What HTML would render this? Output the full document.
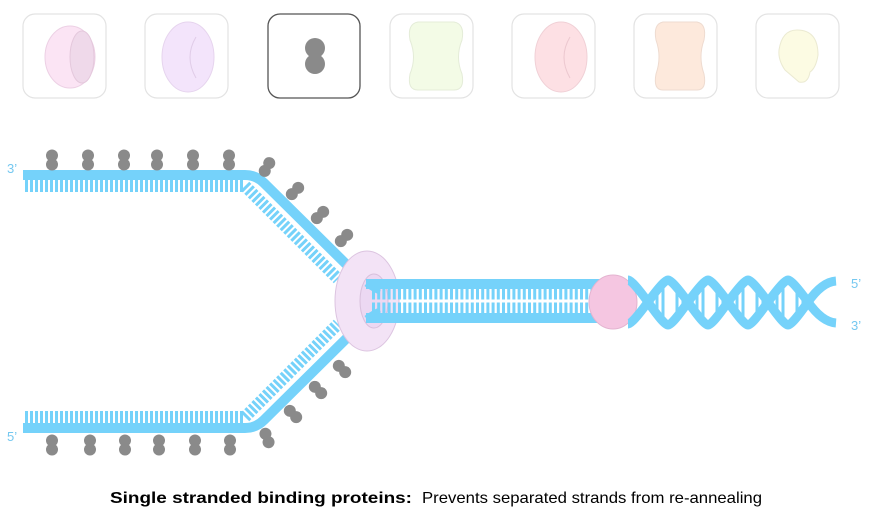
<!DOCTYPE html>
<html><head><meta charset="utf-8"><style>
body{margin:0;background:#fff;width:871px;height:521px;overflow:hidden;font-family:"Liberation Sans",sans-serif}
</style></head><body>
<svg width="871" height="521" viewBox="0 0 871 521" xmlns="http://www.w3.org/2000/svg">
<defs>
<g id="ssb"><circle cx="0" cy="-4.5" r="6" fill="#8a8a8a"/><circle cx="0" cy="4.5" r="6" fill="#8a8a8a"/></g>
</defs>
<!-- top boxes -->
<g fill="#fff" stroke="#e3e3e3" stroke-width="1.2">
<rect x="23" y="14" width="83" height="84" rx="12"/>
<rect x="145" y="14" width="83" height="84" rx="12"/>
<rect x="390" y="14" width="83" height="84" rx="12"/>
<rect x="512" y="14" width="83" height="84" rx="12"/>
<rect x="634" y="14" width="83" height="84" rx="12"/>
<rect x="756" y="14" width="83" height="84" rx="12"/>
</g>
<rect x="268" y="14" width="92" height="84" rx="12" fill="#fff" stroke="#555" stroke-width="1.3"/>
<ellipse cx="70" cy="57" rx="25" ry="31" fill="#fbe4f4" stroke="#ecd0e4"/>
<ellipse cx="82" cy="57" rx="12" ry="26" fill="#efd9ea" stroke="#e4c8dc"/>
<ellipse cx="188" cy="57" rx="26" ry="35" fill="#f3e4fb" stroke="#e6d4ee"/>
<path d="M196 37 Q184 57 196 78" fill="none" stroke="#e0cce8"/>
<circle cx="315" cy="48" r="10" fill="#8a8a8a"/><circle cx="315" cy="64" r="10" fill="#8a8a8a"/>
<path d="M418 22 H454 Q465 24 462 40 Q455 57 462 74 Q465 90 454 90 H418 Q407 90 410 74 Q417 57 410 40 Q407 24 418 22Z" fill="#f3fbe6" stroke="#e4ecd8"/>
<ellipse cx="561" cy="57" rx="26" ry="35" fill="#fde0e4" stroke="#f0d0d6"/>
<path d="M570 37 Q558 57 570 78" fill="none" stroke="#ecc8cf"/>
<path d="M663 22 H697 Q707 24 704 40 Q698 57 704 74 Q707 90 697 90 H663 Q653 90 656 74 Q662 57 656 40 Q653 24 663 22Z" fill="#fde9dc" stroke="#eedbd0"/>
<path d="M797 30 Q818 30 818 55 Q816 68 810 72 Q808 84 799 82 Q792 76 785 70 Q778 60 779 50 Q782 30 797 30Z" fill="#fcfbe3" stroke="#ebead2"/>

<!-- strands -->
<g fill="none" stroke="#75d2fa">
<path d="M23 175 H245 Q256 175 264 183 L352 270" stroke-width="10"/>
<path d="M25 186 H245 L338 279" stroke-width="12" stroke-dasharray="3 2"/>
<path d="M23 428 H245 Q256 428 264 420 L352 333" stroke-width="10"/>
<path d="M25 417 H245 L338 324" stroke-width="12" stroke-dasharray="3 2"/>
</g>
<!-- helicase -->
<ellipse cx="367" cy="301" rx="32" ry="50" fill="#f3e3f6" stroke="#dcc4e0"/>
<ellipse cx="374" cy="301" rx="14" ry="27" fill="#ecd8f2" stroke="#d8c0dc"/>
<!-- duplex -->
<g fill="none" stroke="#75d2fa">
<path d="M366 284 H612" stroke-width="10"/>
<path d="M366 318 H612" stroke-width="10"/>
<path d="M372 294 H605" stroke-width="11" stroke-dasharray="3 2.2"/>
<path d="M372 308 H605" stroke-width="11" stroke-dasharray="3 2.2"/>
<path d="M366 284 Q374 290 380 292 M366 318 Q374 312 380 310" stroke-width="5"/>
</g>
<ellipse cx="613" cy="302" rx="24" ry="27" fill="#f5c6e1" stroke="#e3b4d0"/>
<!-- helix -->
<g fill="none" stroke="#75d2fa" stroke-width="9">
<path d="M628 280 Q632 280 648 302 Q664 325 668 325 Q672 325 688 302 Q704 280 708 280 Q712 280 728 302 Q744 325 748 325 Q752 325 768 302 Q784 280 788 280 Q792 280 808 302 Q822 322 836 323"/>
<path d="M628 324 Q632 324 648 302 Q664 280 668 280 Q672 280 688 302 Q704 325 708 325 Q712 325 728 302 Q744 280 748 280 Q752 280 768 302 Q784 325 788 325 Q792 325 808 302 Q822 282 836 281"/>
</g>
<g stroke="#75d2fa" stroke-width="3">
<path d="M657 290V314 M663 284V320 M677 284V320 M683 290V314 M697 290V314 M703 284V320 M717 284V320 M723 290V314 M737 290V314 M743 284V320 M757 284V320 M763 290V314 M777 290V314 M783 284V320 M797 284V320 M803 290V314"/>
</g>
<!-- SSBs -->
<g>
<use href="#ssb" x="52" y="160"/><use href="#ssb" x="88" y="160"/><use href="#ssb" x="124" y="160"/>
<use href="#ssb" x="157" y="160"/><use href="#ssb" x="193" y="160"/><use href="#ssb" x="229" y="160"/>
<use href="#ssb" transform="translate(267,167) rotate(30)"/>
<use href="#ssb" transform="translate(295,191) rotate(45)"/>
<use href="#ssb" transform="translate(320,215) rotate(45)"/>
<use href="#ssb" transform="translate(344,238) rotate(45)"/>
<use href="#ssb" x="52" y="445"/><use href="#ssb" x="90" y="445"/><use href="#ssb" x="125" y="445"/>
<use href="#ssb" x="159" y="445"/><use href="#ssb" x="195" y="445"/><use href="#ssb" x="230" y="445"/>
<use href="#ssb" transform="translate(267,438) rotate(-20)"/>
<use href="#ssb" transform="translate(293,414) rotate(-45)"/>
<use href="#ssb" transform="translate(318,390) rotate(-45)"/>
<use href="#ssb" transform="translate(342,369) rotate(-45)"/>
</g>
<g fill="#75c8f0" font-size="13" font-family="Liberation Sans, sans-serif">
<text x="7" y="173">3’</text>
<text x="7" y="441">5’</text>
<text x="851" y="288">5’</text>
<text x="851" y="330">3’</text>
</g>
<text x="110" y="503" font-size="16" font-weight="bold" font-family="Liberation Sans, sans-serif" fill="#000" textLength="302" lengthAdjust="spacingAndGlyphs">Single stranded binding proteins:</text>
<text x="422" y="503" font-size="16" font-family="Liberation Sans, sans-serif" fill="#000" textLength="340" lengthAdjust="spacingAndGlyphs">Prevents separated strands from re-annealing</text>
</svg>
</body></html>
